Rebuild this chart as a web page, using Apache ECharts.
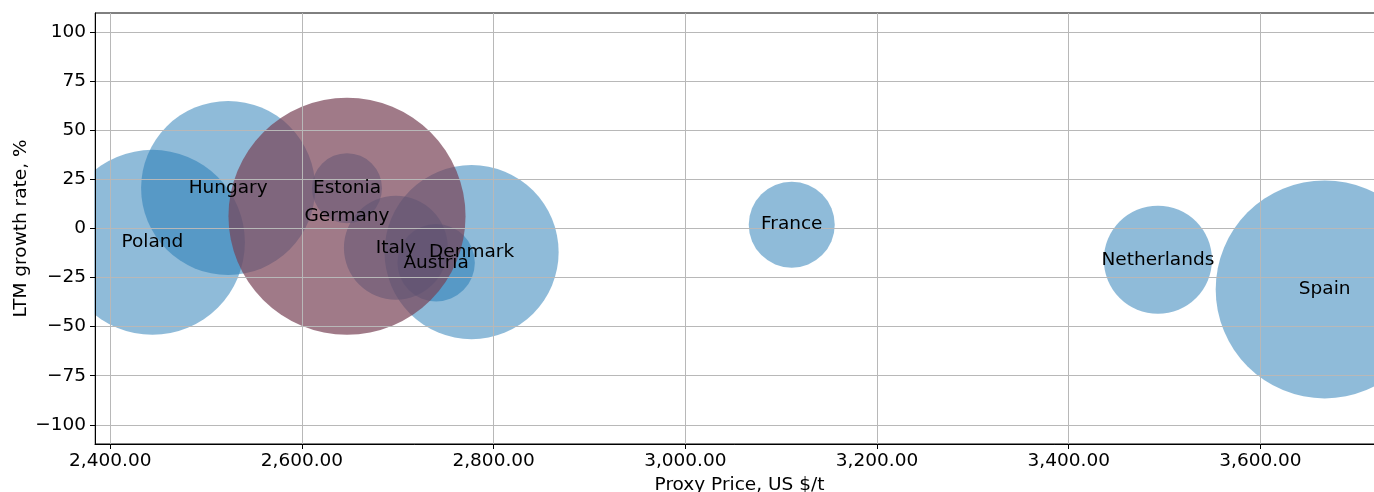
<!DOCTYPE html>
<html>
<head>
<meta charset="utf-8">
<script src="https://cdn.jsdelivr.net/npm/echarts@6/dist/echarts.min.js"></script>
<style>html,body{margin:0;padding:0;background:#fff}#c{width:1374px;height:492px}</style>
</head>
<body>
<div id="c"></div>
<script>
// ---- data ----
const countries = ['Poland', 'Hungary', 'Estonia', 'Italy', 'Austria', 'Denmark', 'France', 'Netherlands', 'Spain', 'Germany'];
const prices    = [2444, 2523, 2647, 2698, 2740, 2777, 3111, 3493, 3667, 2647];      // Proxy Price, US $/t
const growth    = [-7.0, 20.7, 20.6, -9.8, -17.4, -12.0, 2.0, -15.9, -31.0, 6.3];    // LTM growth rate, %
const volumes   = [342, 303, 49, 108, 60, 303, 74, 117, 475, 562];                   // bubble size (relative volume)
const highlight = 'Germany';
const xTicks = [2400, 2600, 2800, 3000, 3200, 3400, 3600];
const yTicks = [-100, -75, -50, -25, 0, 25, 50, 75, 100];

const FONT = 'DejaVu Sans';
const FS = 18.5;
const GRID_LEFT = 95;
const chart = echarts.init(document.getElementById('c'), null, { renderer: 'canvas' });

const pts = countries.map((c, i) => ({ name: c, value: [prices[i], growth[i], volumes[i]] }));
const bluePts = pts.filter(p => p.name !== highlight);
const hiPts = pts.filter(p => p.name === highlight);
const sizeFn = v => Math.sqrt(v[2]) * 10;

const fmtX = v => Number(v).toLocaleString('en-US', { minimumFractionDigits: 2, maximumFractionDigits: 2 });
const fmtY = v => (v < 0 ? '\u2212' + Math.abs(v) : String(v));

const gridLines = {
  silent: true,
  symbol: 'none',
  label: { show: false },
  emphasis: { disabled: true },
  lineStyle: { color: '#b8b8b8', width: 1, type: 'solid' },
  data: [...xTicks.map(v => ({ xAxis: v })), ...yTicks.map(v => ({ yAxis: v }))]
};

chart.setOption({
  animation: false,
  backgroundColor: '#fff',
  textStyle: { fontFamily: FONT },
  grid: {
    left: GRID_LEFT, top: 13, bottom: 48, right: -10,
    containLabel: false, outerBoundsMode: 'none',
    show: true, borderColor: '#000', borderWidth: 1, backgroundColor: 'transparent'
  },
  // white mask left of the plot area so bubbles are clipped at the y axis (like the reference)
  graphic: [{
    type: 'rect', z: 15, silent: true,
    shape: { x: 0, y: 0, width: GRID_LEFT - 0.5, height: 492 },
    style: { fill: '#fff' }
  }],
  xAxis: {
    type: 'value', min: 2384.1, max: 3728.9, z: 20,
    axisLine: { show: true, onZero: false, lineStyle: { color: '#000', width: 1 } },
    axisTick: { show: true, length: 5, customValues: xTicks, lineStyle: { color: '#000', width: 1 } },
    axisLabel: { customValues: xTicks, formatter: fmtX, margin: 8, fontSize: FS, color: '#000', fontFamily: FONT },
    splitLine: { show: false },
    name: 'Proxy Price, US $/t', nameLocation: 'middle', nameGap: 32, nameMoveOverlap: false,
    nameTextStyle: { fontSize: FS, color: '#000', fontFamily: FONT }
  },
  yAxis: {
    type: 'value', min: -109.8, max: 109.9, z: 20,
    axisLine: { show: true, onZero: false, lineStyle: { color: '#000', width: 1 } },
    axisTick: { show: true, length: 5, customValues: yTicks, lineStyle: { color: '#000', width: 1 } },
    axisLabel: { customValues: yTicks, formatter: fmtY, margin: 9, fontSize: FS, color: '#000', fontFamily: FONT },
    splitLine: { show: false },
    name: 'LTM growth rate, %', nameLocation: 'middle', nameRotate: 90, nameGap: 64, nameMoveOverlap: false,
    nameTextStyle: { fontSize: FS, color: '#000', fontFamily: FONT }
  },
  series: [
    {
      type: 'scatter', z: 2, clip: true, data: bluePts, symbolSize: sizeFn,
      itemStyle: { color: 'rgba(31,119,180,0.5)', opacity: 1 },
      emphasis: { disabled: true }, label: { show: false }
    },
    {
      type: 'scatter', z: 3, clip: true, data: hiPts, symbolSize: sizeFn,
      itemStyle: { color: 'rgba(119,66,86,0.7)', opacity: 1 },
      emphasis: { disabled: true }, label: { show: false },
      markLine: gridLines
    },
    {
      type: 'scatter', z: 10, clip: true, data: pts, symbolSize: 0.01, silent: true,
      itemStyle: { color: 'rgba(0,0,0,0)', opacity: 1 },
      emphasis: { disabled: true },
      label: { show: true, position: 'inside', formatter: '{b}', color: '#000', fontSize: FS, fontFamily: FONT }
    }
  ]
});
</script>
</body>
</html>
